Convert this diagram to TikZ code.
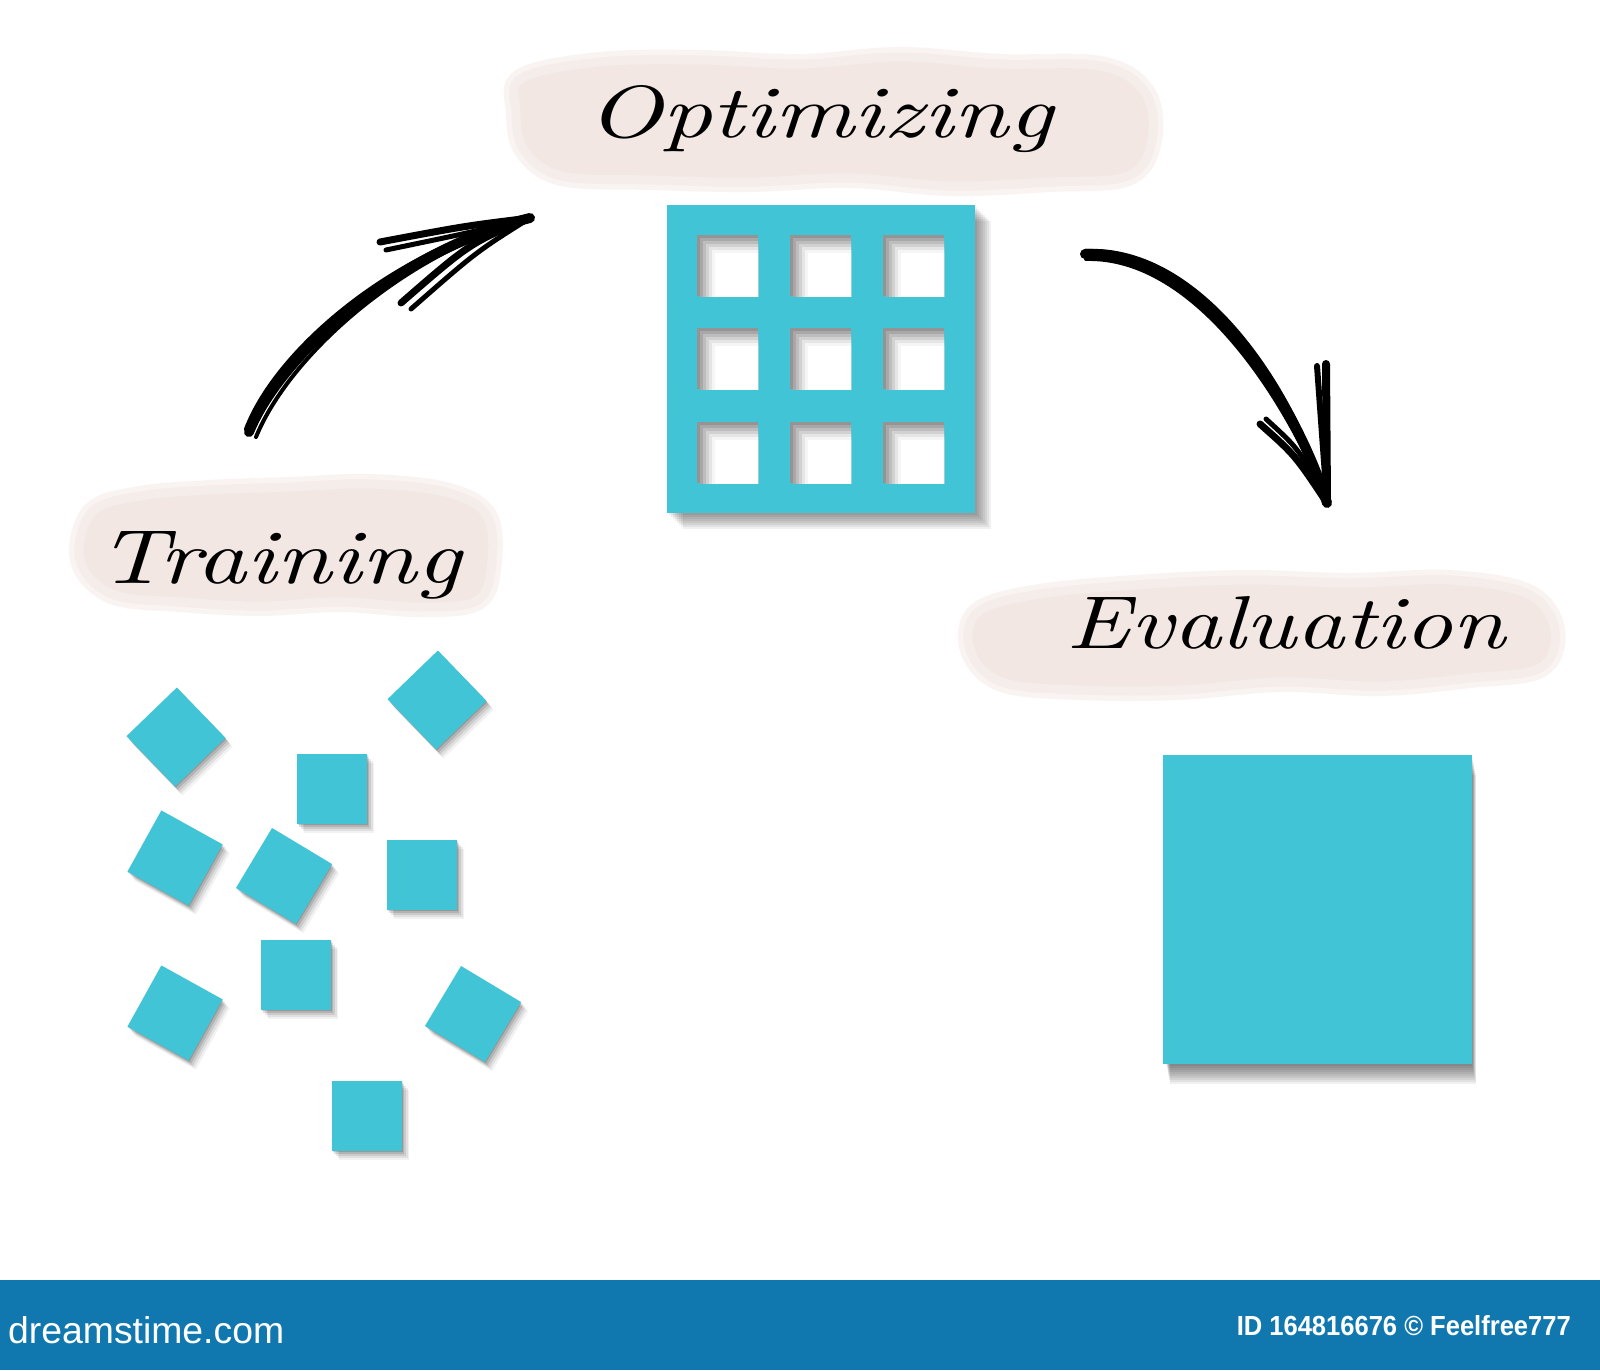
\documentclass[tikz,border=0pt]{standalone}
\usepackage{fontspec}
\usepackage{graphicx}
\newfontfamily\barfont{Liberation Sans}
\definecolor{teal1}{RGB}{65,196,214}
\definecolor{blob}{RGB}{242,231,227}
\definecolor{blobmid}{RGB}{245,237,233}
\definecolor{blobedge}{RGB}{249,244,241}
\definecolor{barblue}{RGB}{17,120,175}
\newcommand\tileat[4]{%
  \foreach \d/\o in {9/0.05,7/0.07,5/0.09,3/0.12,1/0.14}{%
    \fill[black, opacity=\o, shift={(#2+0.8*\d,#3+\d)}, rotate=#4] (-35,-35) rectangle (35,35);}
  \node[tile, rotate=#4] (#1) at (#2,#3) {};}
\begin{document}
\begin{tikzpicture}[x=1pt,y=-1pt,
  tile/.style={fill=teal1, draw=none, inner sep=0pt, outer sep=0pt, minimum size=70pt},
  brush/.style={line width=10pt, line cap=round, line join=round, black},
  brushthin/.style={line width=4pt, line cap=round, black},
  blobouter/.style={draw=blobedge, line width=20pt, fill=blobedge},
  blobstyle/.style={fill=blob, draw=blobmid, line width=9pt},
  lbl/.style={anchor=base west, inner sep=0pt, text=black}]
\useasboundingbox (0,0) rectangle (1600,1370);
\fill[white] (0,0) rectangle (1600,1370);

% ---------- label blobs ----------
\def\blobA{(522,78) (600,62) (700,60) (800,64) (900,57) (1000,64) (1100,66) (1145,92)
  (1152,140) (1128,176) (1050,182) (950,186) (850,178) (750,182) (650,180)
  (562,176) (524,150) (516,112)}
\def\blobB{(92,512) (140,496) (210,490) (290,487) (370,484) (445,492) (486,514)
  (492,560) (478,600) (420,607) (340,602) (260,606) (180,602) (112,594) (80,560)}
\def\blobC{(978,612) (1040,594) (1150,584) (1250,580) (1350,583) (1450,580) (1528,594)
  (1555,630) (1540,668) (1470,678) (1380,686) (1280,682) (1180,690) (1080,690)
  (1002,682) (970,650)}
\path[blobouter] plot[smooth cycle, tension=0.6] coordinates {\blobA};
\path[blobouter] plot[smooth cycle, tension=0.6] coordinates {\blobB};
\path[blobouter] plot[smooth cycle, tension=0.6] coordinates {\blobC};
\path[blobstyle] plot[smooth cycle, tension=0.6] coordinates {\blobA};
\path[blobstyle] plot[smooth cycle, tension=0.6] coordinates {\blobB};
\path[blobstyle] plot[smooth cycle, tension=0.6] coordinates {\blobC};

% ---------- labels ----------
\node[lbl] (opt) at (587,138) {\resizebox{466pt}{52pt}{\itshape Optimizing}};
\node[lbl] (train) at (97,583) {\resizebox{364pt}{52pt}{\itshape Training}};
\node[lbl] (eval) at (1066,648) {\resizebox{439pt}{52pt}{\itshape Evaluation}};

% ---------- grid (optimizing) ----------
\foreach \d in {2,4,...,16}{
  \fill[black, opacity=0.06] (667+\d,205+\d) rectangle (975+\d,513+\d);}
\node[tile, minimum size=308pt] (grid) at (821,359) {};
\foreach \hx in {697,790,883}{
  \foreach \hy in {235,328,422}{
    \begin{scope}
      \clip (\hx,\hy) rectangle (\hx+61,\hy+61);
      \fill[black!42] (\hx,\hy) rectangle (\hx+61,\hy+61);
      \fill[black!34] (\hx+3,\hy+3) rectangle (\hx+70,\hy+70);
      \fill[black!26] (\hx+6,\hy+6) rectangle (\hx+70,\hy+70);
      \fill[black!18] (\hx+9,\hy+9) rectangle (\hx+70,\hy+70);
      \fill[black!10] (\hx+12,\hy+12) rectangle (\hx+70,\hy+70);
      \fill[black!4] (\hx+15,\hy+15) rectangle (\hx+70,\hy+70);
      \fill[white] (\hx+18,\hy+18) rectangle (\hx+70,\hy+70);
    \end{scope}}}

% ---------- scattered tiles (training) ----------
\tileat{t1}{176}{737}{44}
\tileat{t2}{437}{700}{44}
\tileat{t3}{332}{789}{0}
\tileat{t4}{175}{858}{-29}
\tileat{t5}{284}{876}{-31}
\tileat{t6}{422}{875}{0}
\tileat{t7}{296}{975}{0}
\tileat{t8}{175}{1013}{-29}
\tileat{t9}{473}{1014}{-31}
\tileat{t10}{367}{1116}{0}

% ---------- big square (evaluation) ----------
\foreach \d in {2,4,...,20}{
  \fill[black, opacity=0.06] (1166+0.2*\d,755+\d) rectangle (1472+0.2*\d,1064+\d);}
\node[tile, minimum size=309pt] (big) at (1317.5,909.5) {};

% ---------- arrow 1 (training -> optimizing) ----------
\coordinate (a1s) at (249,432);
\coordinate (a1e) at (530,218);
\draw[brush] (a1s) .. controls (282,352) and (400,250) .. (a1e);
\draw[brushthin] ([shift={(7,5)}]a1s) .. controls (290,354) and (404,254) .. (a1e);
\draw[brushthin] ([shift={(-3,-3)}]a1s) .. controls (277,348) and (397,247) .. (a1e);
\draw[brush, line width=7pt] (a1e) .. controls (465,226) .. (380,242);
\draw[brush, line width=5pt] (a1e) .. controls (468,233) .. (386,250);
\draw[brush, line width=7pt] (a1e) .. controls (470,243) .. (401,303);
\draw[brush, line width=5pt] (a1e) .. controls (476,252) .. (411,309);

% ---------- arrow 2 (optimizing -> evaluation) ----------
\coordinate (a2s) at (1085,254);
\coordinate (a2e) at (1327,503);
\draw[brush] (a2s) .. controls (1200,250) and (1295,400) .. (a2e);
\draw[brushthin] ([shift={(1,5)}]a2s) .. controls (1197,256) and (1289,404) .. (a2e);
\draw[brushthin] ([shift={(0,-3)}]a2s) .. controls (1204,245) and (1299,397) .. (a2e);
\draw[brush, line width=8pt] (a2e) -- (1326,364);
\draw[brush, line width=6pt] (a2e) -- (1317,366);
\draw[brush, line width=7pt] (a2e) .. controls (1295,455) .. (1260,424);
\draw[brush, line width=5pt] (a2e) .. controls (1300,450) .. (1266,419);

% ---------- bottom bar ----------
\fill[barblue] (0,1280) rectangle (1600,1370);
\node[anchor=base west, inner sep=0pt, text=white] (dt) at (8,1343)
  {\resizebox{276pt}{27pt}{\barfont dreamstime.com}};
\node[anchor=base east, inner sep=0pt, text=white] (id) at (1571,1335)
  {\resizebox{334pt}{20pt}{\barfont\bfseries ID 164816676 \textcopyright{} Feelfree777}};
\end{tikzpicture}
\end{document}
